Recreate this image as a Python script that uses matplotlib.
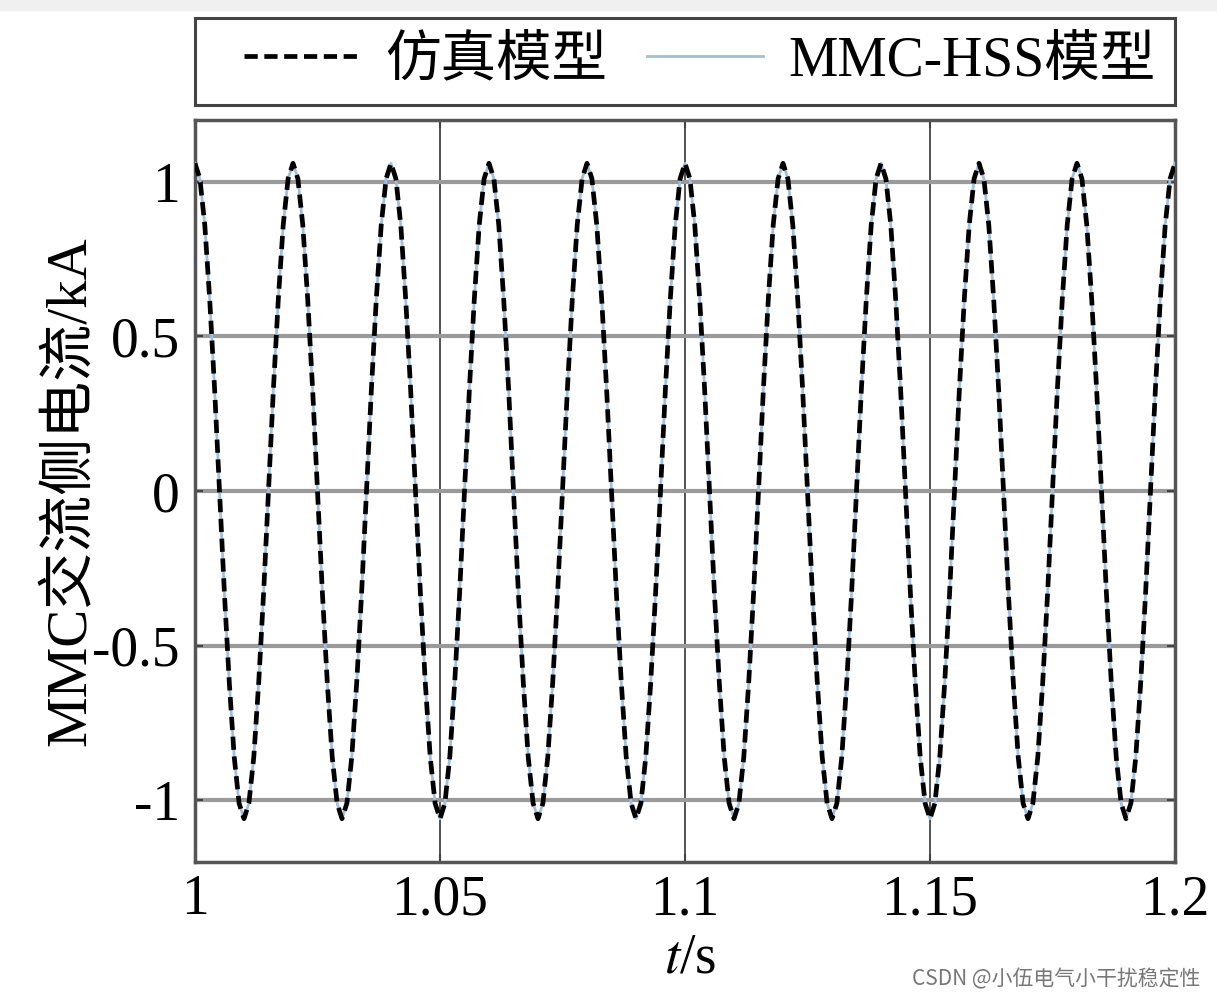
import matplotlib
matplotlib.use("Agg")
import matplotlib.pyplot as plt
from matplotlib.lines import Line2D
from matplotlib.patches import Rectangle
import numpy as np

# one 20 ms period of the AC-side current (kA), read every 1 ms from the figure
sim_cycle = [1.06, 1.01, 0.86, 0.62, 0.33, 0.0, -0.33, -0.62, -0.86, -1.01,
             -1.06, -1.01, -0.86, -0.62, -0.33, 0.0, 0.33, 0.62, 0.86, 1.01]
hss_cycle = [1.06, 1.01, 0.86, 0.62, 0.33, 0.0, -0.33, -0.62, -0.86, -1.01,
             -1.06, -1.01, -0.86, -0.62, -0.33, 0.0, 0.33, 0.62, 0.86, 1.01]
n_cycles = 10
t_start = 1.0
t_step = 0.001

xticks = [1.0, 1.05, 1.1, 1.15, 1.2]
xtick_labels = ["1", "1.05", "1.1", "1.15", "1.2"]
yticks = [-1, -0.5, 0, 0.5, 1]
ytick_labels = ["-1", "-0.5", "0", "0.5", "1"]
legend_labels = ["仿真模型", "MMC-HSS模型"]

sim_current = sim_cycle * n_cycles + [sim_cycle[0]]
hss_current = hss_cycle * n_cycles + [hss_cycle[0]]
t = t_start + t_step * np.arange(len(sim_current))

plt.rcParams['font.family'] = ['Liberation Serif', 'Noto Sans CJK SC']
plt.rcParams['mathtext.fontset'] = 'stix'
plt.rcParams['axes.unicode_minus'] = False

fig = plt.figure(figsize=(12.17, 9.98), dpi=100)
fig.patches.append(Rectangle((0, 1 - 10 / 998), 1, 10 / 998, transform=fig.transFigure,
                             color='#f0f0f0', zorder=0))

ax = fig.add_axes([195 / 1217, 1 - 862 / 998, 980 / 1217, 742 / 998])
ax.plot(t, hss_current, color='#9fbfdf', lw=2.0, zorder=3)
ax.plot(t, sim_current, color='black', lw=3.4, dashes=[2.8, 1.4], zorder=4)

ax.set_xlim(1.0, 1.2)
ax.set_ylim(-1.2, 1.2)
ax.set_xticks(xticks)
ax.set_xticklabels(xtick_labels)
ax.set_yticks(yticks)
ax.set_yticklabels(ytick_labels)
ax.tick_params(direction='in', length=6, width=1.5, labelsize=40, top=True, right=True,
               color='#444444')
ax.tick_params(axis='x', pad=9)
ax.tick_params(axis='y', pad=11)

ax.set_axisbelow(True)
ax.grid(axis='y', color='#9a9a9a', lw=3)
ax.grid(axis='x', color='#444444', lw=1.3)
for sp in ax.spines.values():
    sp.set_linewidth(2.5)
    sp.set_color('#555555')

ax.set_ylabel("MMC交流侧电流/kA", fontsize=41)
ax.yaxis.label.set_va('center')
ax.yaxis.set_label_coords(-0.126, 0.5)
ax.set_xlabel(r"$t$/s", fontsize=40)
ax.xaxis.label.set_va('center')
ax.xaxis.set_label_coords(0.505, -0.13)

# legend box above the plot
lax = fig.add_axes([195 / 1217, 1 - 105 / 998, 980 / 1217, 87 / 998])
lax.set_xticks([])
lax.set_yticks([])
for sp in lax.spines.values():
    sp.set_linewidth(2.2)
    sp.set_color('#444444')
handles = [Line2D([], [], color='black', lw=3.4, dashes=[2.8, 1.4]),
           Line2D([], [], color='#9fbfdf', lw=2.0)]
lax.legend(handles, legend_labels, loc='center', bbox_to_anchor=(0.515, 0.5), frameon=False,
           ncol=2, fontsize=40, handlelength=2.1, handletextpad=0.45, columnspacing=0.7,
           borderpad=0, borderaxespad=0)

fig.text(1200 / 1217, 1 - 990 / 998, "CSDN @小伍电气小干扰稳定性", ha='right', va='bottom',
         fontsize=15, color='#777777', family=['Noto Sans CJK SC'])

fig.savefig("out.png", dpi=100)
